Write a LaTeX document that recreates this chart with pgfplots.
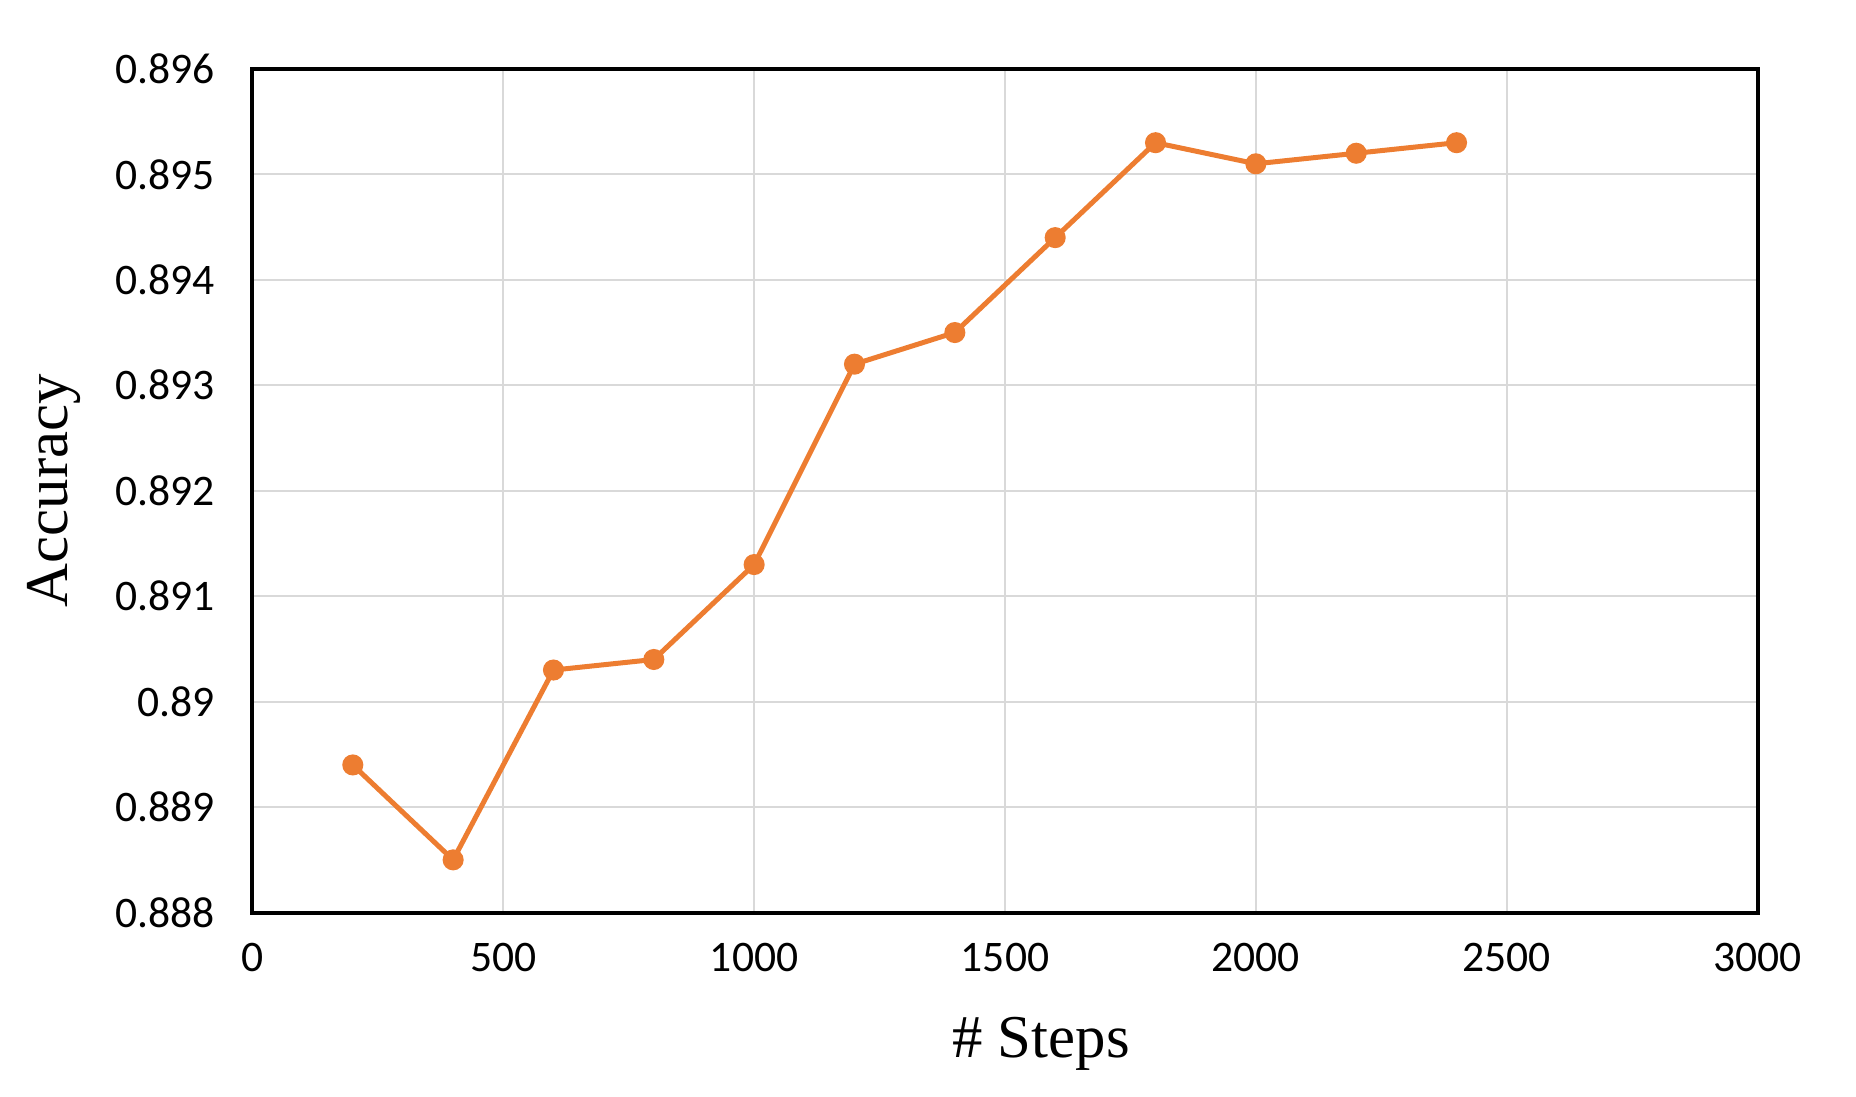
\documentclass[border=0pt]{standalone}
\usepackage{pgfplots}
\pgfplotsset{compat=1.18}
\usepackage{fontspec}
\setmainfont{Carlito}
\newfontfamily\labelfont{Liberation Serif}
\definecolor{exorange}{HTML}{ED7D31}
\definecolor{gridgray}{HTML}{D9D9D9}
\begin{document}
\begin{tikzpicture}
	\path[use as bounding box] (-63.1pt,-45.9pt) rectangle (400.8pt,228.1pt);
	\begin{axis}[
			at={(0,0)}, anchor=south west,
			scale only axis,
			width=376.2pt, height=210.9pt,
			xmin=0, xmax=3000,
			ymin=0.888, ymax=0.896,
			xtick={0,500,...,3000},
			ytick={0.888,0.889,0.890,0.891,0.892,0.893,0.894,0.895,0.896},
			yticklabels={0.888,0.889,0.89,0.891,0.892,0.893,0.894,0.895,0.896},
			/pgf/number format/assume math mode=true,
			/pgf/number format/1000 sep={},
			tick style={draw=none},
			ticklabel style={font=\fontsize{10.9}{13}\selectfont},
			xticklabel style={yshift=-4pt},
			yticklabel style={xshift=-5.9pt},
			grid=major,
			grid style={gridgray, line width=0.5pt},
			axis line style={black, line width=1pt},
			xlabel={\# Steps},
			ylabel={Accuracy},
			label style={font=\labelfont\fontsize{15.2}{18}\selectfont},
			xlabel style={at={(axis description cs:0.524,-0.155)}, anchor=center},
			ylabel style={at={(axis description cs:-0.1316,0.5)}, anchor=center},
		]
		\addplot[
			color=exorange,
			line width=1.25pt,
			mark=*,
			mark size=2pt,
			mark options={fill=exorange, draw=exorange},
		]
		coordinates {
				(200, 0.8894)
				(400, 0.8885)
				(600, 0.8903)
				(800, 0.8904)
				(1000, 0.8913)
				(1200, 0.8932)
				(1400, 0.8935)
				(1600, 0.8944)
				(1800, 0.8953)
				(2000, 0.8951)
				(2200, 0.8952)
				(2400, 0.8953)
			};
	\end{axis}
\end{tikzpicture}
\end{document}
